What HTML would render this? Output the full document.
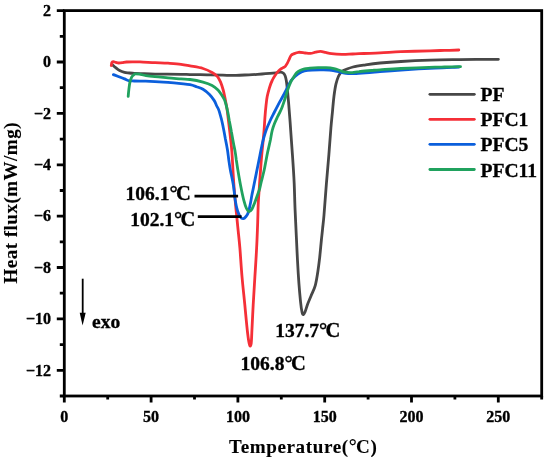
<!DOCTYPE html>
<html><head><meta charset="utf-8"><title>DSC curves</title>
<style>html,body{margin:0;padding:0;background:#fff;}svg{display:block;filter:blur(0.3px);}</style>
</head><body>
<svg width="550" height="461" viewBox="0 0 550 461">
<rect width="550" height="461" fill="#fff"/>
<g fill="none" stroke-width="2.8" stroke-linejoin="round" stroke-linecap="round">
<path stroke="#474747" d="M112.3 64.7 C112.9 65.2 114.5 66.7 115.7 67.7 C116.9 68.7 118.1 69.8 119.6 70.6 C121.1 71.4 122.9 72.0 124.5 72.4 C126.1 72.8 127.8 72.8 129.4 73.0 C131.0 73.2 132.4 73.2 134.2 73.3 C136.0 73.4 136.5 73.5 140.0 73.6 C143.5 73.7 148.2 74.0 155.0 74.1 C161.8 74.2 175.2 74.2 181.0 74.3 C186.8 74.4 185.7 74.5 190.0 74.6 C194.3 74.7 201.5 74.7 207.0 74.8 C212.5 74.9 218.2 75.1 223.0 75.2 C227.8 75.3 231.7 75.5 236.0 75.4 C240.3 75.3 244.7 75.0 249.0 74.8 C253.3 74.6 258.5 74.2 262.0 74.0 C265.5 73.8 267.7 73.6 270.0 73.4 C272.3 73.2 274.2 73.0 276.0 72.8 C277.8 72.6 279.4 72.1 280.7 72.2 C281.9 72.3 282.8 72.7 283.5 73.3 C284.2 73.9 284.7 74.8 285.2 76.0 C285.7 77.2 285.9 78.2 286.3 80.5 C286.7 82.8 287.0 86.1 287.4 90.0 C287.8 93.9 288.3 99.3 288.7 104.0 C289.1 108.7 289.4 113.3 289.8 118.0 C290.2 122.7 290.4 126.0 290.8 132.0 C291.2 138.1 291.8 145.7 292.4 154.3 C293.0 162.9 293.8 174.3 294.2 183.6 C294.6 192.9 294.7 201.0 295.1 210.0 C295.5 219.0 296.0 229.3 296.4 237.7 C296.8 246.1 297.1 252.9 297.5 260.5 C297.9 268.1 298.4 276.4 298.9 283.2 C299.4 290.0 300.0 296.5 300.5 301.4 C301.0 306.3 301.6 310.3 302.1 312.5 C302.6 314.7 303.0 314.7 303.5 314.6 C304.0 314.5 304.3 313.7 305.0 312.0 C305.7 310.3 306.5 307.2 307.5 304.5 C308.5 301.8 309.7 299.2 311.0 296.0 C312.3 292.8 314.2 289.4 315.3 285.3 C316.4 281.2 317.2 275.9 317.9 271.2 C318.6 266.5 319.1 262.5 319.7 257.3 C320.3 252.1 320.9 244.8 321.4 240.0 C321.9 235.2 322.2 232.8 322.6 228.6 C323.0 224.4 323.4 222.5 324.0 215.0 C324.6 207.5 325.6 193.7 326.4 183.6 C327.2 173.5 328.1 163.6 328.9 154.3 C329.6 145.0 330.3 135.2 330.9 128.0 C331.5 120.8 332.0 116.6 332.5 111.3 C333.0 106.0 333.4 100.6 334.0 96.0 C334.6 91.4 335.2 87.2 336.0 83.9 C336.8 80.6 337.6 78.3 338.5 76.3 C339.4 74.3 340.3 72.9 341.6 71.7 C342.9 70.5 344.5 70.1 346.4 69.3 C348.3 68.5 349.8 67.8 353.0 67.0 C356.2 66.2 361.1 65.5 365.6 64.8 C370.1 64.1 374.1 63.5 380.0 63.0 C385.9 62.5 392.7 62.0 401.0 61.5 C409.3 61.0 420.3 60.5 430.0 60.2 C439.7 59.9 447.7 59.8 459.1 59.6 C470.5 59.5 491.8 59.3 498.4 59.3"/>
<path stroke="#f52f37" d="M111.3 65.6 C111.4 65.1 111.5 63.2 111.8 62.6 C112.1 62.0 112.6 61.8 113.3 61.7 C114.0 61.7 114.8 62.1 115.7 62.3 C116.6 62.5 117.5 63.0 118.6 63.0 C119.7 63.0 121.2 62.8 122.5 62.6 C123.8 62.4 124.8 62.1 126.4 62.0 C128.0 61.9 130.0 61.8 132.3 61.8 C134.6 61.8 136.2 61.8 140.0 61.9 C143.8 62.0 150.3 62.5 155.0 62.7 C159.7 62.9 163.7 62.9 168.0 63.2 C172.3 63.5 177.3 63.8 181.0 64.3 C184.7 64.8 186.3 65.2 190.0 65.9 C193.7 66.6 199.3 67.4 203.0 68.5 C206.7 69.6 209.7 71.1 212.1 72.4 C214.5 73.7 215.9 74.7 217.3 76.3 C218.7 77.9 219.6 79.8 220.6 82.1 C221.6 84.4 222.4 87.2 223.2 90.0 C224.0 92.8 224.5 95.8 225.2 99.1 C225.8 102.3 226.6 106.0 227.1 109.5 C227.6 113.0 228.0 116.6 228.4 120.0 C228.8 123.4 229.2 126.8 229.6 130.0 C230.0 133.2 230.2 135.4 230.6 139.1 C231.0 142.8 231.4 145.6 231.9 152.1 C232.4 158.6 232.9 169.7 233.4 177.8 C233.9 185.9 234.6 193.6 235.2 200.6 C235.8 207.6 236.6 214.8 237.1 220.0 C237.6 225.2 237.8 227.3 238.3 232.0 C238.8 236.7 239.3 240.8 239.9 248.2 C240.5 255.6 241.2 267.1 242.0 276.5 C242.8 285.9 243.9 295.3 244.8 304.7 C245.7 314.1 246.8 326.2 247.6 333.0 C248.4 339.8 249.1 343.6 249.7 345.3 C250.3 347.1 250.8 345.6 251.2 343.5 C251.5 341.4 251.5 339.5 251.8 333.0 C252.1 326.5 252.7 314.1 253.2 304.7 C253.7 295.3 254.3 285.9 254.9 276.5 C255.5 267.1 256.2 256.8 256.6 248.2 C257.1 239.6 257.3 232.6 257.6 225.0 C257.9 217.4 258.0 208.7 258.3 202.5 C258.6 196.3 259.0 192.6 259.3 188.0 C259.6 183.4 259.8 180.3 260.2 175.0 C260.6 169.7 261.1 162.1 261.6 156.3 C262.1 150.5 262.8 144.4 263.2 140.0 C263.6 135.6 263.8 133.7 264.1 130.0 C264.4 126.3 264.6 121.8 264.9 117.8 C265.2 113.8 265.6 109.2 266.0 105.7 C266.4 102.2 266.6 99.5 267.2 96.5 C267.8 93.5 268.7 90.3 269.5 87.6 C270.3 84.9 271.2 82.5 272.2 80.5 C273.1 78.5 274.1 76.9 275.2 75.3 C276.3 73.7 277.6 72.0 278.6 70.9 C279.6 69.8 280.4 69.3 281.2 68.8 C282.0 68.3 282.5 68.2 283.2 67.7 C283.9 67.2 284.8 66.9 285.5 66.1 C286.2 65.3 286.9 63.9 287.5 62.8 C288.1 61.7 288.6 60.5 289.2 59.3 C289.8 58.1 290.3 56.4 291.0 55.5 C291.7 54.6 292.1 54.5 293.3 54.0 C294.6 53.5 296.5 52.5 298.5 52.3 C300.5 52.1 303.1 52.8 305.1 53.0 C307.1 53.2 308.8 53.5 310.5 53.4 C312.2 53.3 313.9 52.5 315.5 52.2 C317.1 51.9 318.7 51.4 320.4 51.4 C322.1 51.4 323.8 52.0 325.6 52.4 C327.5 52.8 328.8 53.3 331.5 53.6 C334.2 53.9 338.3 54.2 341.8 54.3 C345.3 54.4 349.1 54.1 352.7 54.0 C356.3 53.9 359.1 53.7 363.6 53.5 C368.2 53.3 373.8 53.2 380.0 52.9 C386.2 52.6 392.7 52.1 401.0 51.7 C409.3 51.4 422.8 51.0 430.0 50.8 C437.2 50.6 439.7 50.5 444.5 50.4 C449.3 50.3 456.4 50.1 458.8 50.0"/>
<path stroke="#0b5fdc" d="M113.4 74.6 C114.1 74.9 115.9 75.6 117.7 76.3 C119.5 77.0 122.5 78.2 124.5 78.9 C126.5 79.7 127.8 80.5 129.4 80.8 C131.0 81.1 131.5 80.9 134.2 81.0 C136.9 81.1 142.1 81.1 145.6 81.2 C149.1 81.3 151.3 81.4 155.0 81.6 C158.7 81.8 163.7 82.1 168.0 82.4 C172.3 82.7 177.3 83.2 181.0 83.6 C184.7 84.0 187.4 84.2 190.0 84.7 C192.6 85.2 194.3 85.9 196.5 86.7 C198.7 87.5 200.8 88.0 203.0 89.3 C205.2 90.6 207.7 92.7 209.5 94.5 C211.3 96.3 212.9 98.6 214.1 100.4 C215.3 102.2 215.7 103.8 216.5 105.5 C217.3 107.2 218.1 108.1 218.9 110.4 C219.7 112.7 220.7 116.5 221.5 119.5 C222.3 122.5 222.8 125.4 223.5 128.7 C224.2 132.0 224.8 135.6 225.4 139.1 C226.1 142.6 226.8 146.0 227.4 149.5 C228.0 153.0 228.3 156.6 228.8 160.0 C229.3 163.4 229.6 166.0 230.4 170.2 C231.2 174.4 232.6 180.3 233.4 185.4 C234.2 190.5 234.6 196.3 235.3 200.6 C236.0 204.9 236.7 208.2 237.6 211.0 C238.5 213.8 239.6 215.9 240.5 217.2 C241.4 218.5 242.4 218.8 243.3 218.7 C244.2 218.6 245.1 217.6 246.0 216.5 C246.9 215.4 247.8 214.2 248.5 212.0 C249.2 209.8 249.9 205.8 250.5 203.0 C251.1 200.2 251.4 197.6 251.9 195.0 C252.4 192.4 252.7 191.3 253.4 187.7 C254.1 184.1 255.2 178.8 256.3 173.4 C257.4 168.0 259.0 160.0 259.9 155.5 C260.8 151.0 261.1 149.3 261.7 146.5 C262.3 143.7 262.8 141.2 263.6 138.4 C264.4 135.6 265.2 132.6 266.3 129.7 C267.4 126.8 268.7 123.9 270.0 121.0 C271.3 118.1 272.8 115.3 274.2 112.5 C275.6 109.7 277.1 106.8 278.4 104.3 C279.7 101.8 281.1 99.5 282.2 97.5 C283.3 95.5 283.9 94.4 284.8 92.6 C285.7 90.8 286.7 88.7 287.7 86.8 C288.7 84.9 289.7 82.6 290.8 81.0 C291.9 79.4 293.2 78.1 294.4 77.0 C295.6 75.9 296.8 75.0 297.9 74.2 C299.0 73.4 299.9 72.8 301.0 72.2 C302.1 71.6 302.7 71.2 304.5 70.8 C306.3 70.4 308.8 70.2 312.0 70.1 C315.2 69.9 320.1 69.8 323.6 69.9 C327.1 70.0 330.3 70.1 333.2 70.5 C336.1 70.9 338.7 71.8 340.8 72.3 C342.9 72.8 344.1 73.2 346.0 73.4 C347.9 73.6 349.2 73.7 352.5 73.6 C355.8 73.5 361.0 73.1 365.6 72.8 C370.2 72.5 374.1 72.1 380.0 71.6 C385.9 71.1 391.8 70.6 401.0 70.0 C410.2 69.4 425.3 68.5 435.0 68.0 C444.7 67.5 455.0 67.2 459.0 67.0"/>
<path stroke="#20a25e" d="M128.2 96.4 C128.3 95.2 128.6 91.4 128.9 89.1 C129.2 86.8 129.4 84.3 129.9 82.3 C130.4 80.3 131.1 78.2 131.8 76.9 C132.5 75.6 133.6 75.0 134.2 74.5 C134.8 74.0 134.6 74.0 135.5 73.9 C136.4 73.9 137.7 73.9 139.4 74.2 C141.2 74.5 143.4 75.2 146.0 75.6 C148.6 76.0 151.3 76.3 155.0 76.7 C158.7 77.1 163.7 77.5 168.0 77.9 C172.3 78.3 177.3 78.6 181.0 78.9 C184.7 79.2 186.3 79.0 190.0 79.5 C193.7 80.0 199.3 81.1 203.0 82.1 C206.7 83.1 209.6 84.1 212.1 85.4 C214.6 86.7 216.2 88.2 218.0 90.0 C219.8 91.8 221.5 94.8 222.6 96.5 C223.7 98.2 224.0 98.2 224.8 100.5 C225.6 102.8 226.7 107.0 227.4 110.4 C228.2 113.8 228.7 117.3 229.3 120.8 C230.0 124.3 230.7 127.8 231.3 131.3 C232.0 134.8 232.5 138.2 233.2 141.7 C233.8 145.2 234.7 149.0 235.2 152.1 C235.7 155.2 235.9 157.0 236.3 160.0 C236.8 163.0 237.2 166.0 237.9 170.2 C238.6 174.4 239.6 180.3 240.6 185.4 C241.6 190.5 242.9 196.8 243.9 200.6 C244.9 204.4 245.7 206.7 246.5 208.5 C247.3 210.3 248.0 211.4 248.9 211.5 C249.8 211.6 251.0 210.6 251.9 209.2 C252.8 207.8 253.7 205.3 254.6 203.0 C255.5 200.7 256.5 197.8 257.3 195.5 C258.1 193.2 258.9 191.3 259.6 189.0 C260.3 186.7 260.7 184.0 261.3 181.7 C261.9 179.4 262.4 177.4 263.0 175.0 C263.6 172.6 264.2 170.0 264.7 167.4 C265.2 164.8 265.7 162.1 266.2 159.5 C266.7 156.9 267.0 155.2 267.7 151.9 C268.4 148.7 269.6 143.6 270.4 140.0 C271.1 136.4 271.5 133.2 272.2 130.5 C272.9 127.8 273.7 125.5 274.5 123.5 C275.3 121.5 276.0 120.0 276.8 118.3 C277.6 116.5 278.6 114.8 279.5 113.0 C280.4 111.2 281.2 109.6 282.0 107.5 C282.8 105.4 283.8 102.3 284.4 100.5 C285.0 98.7 285.1 98.3 285.7 96.5 C286.2 94.7 286.9 92.2 287.7 89.8 C288.5 87.4 289.6 84.4 290.6 82.3 C291.6 80.2 292.6 78.8 293.6 77.2 C294.6 75.7 295.3 74.1 296.4 73.0 C297.5 71.9 298.6 71.2 300.0 70.5 C301.4 69.8 302.8 69.2 304.5 68.8 C306.2 68.4 307.7 68.4 310.0 68.2 C312.3 68.0 315.5 67.8 318.2 67.7 C320.9 67.6 323.4 67.6 326.0 67.7 C328.6 67.8 331.7 68.1 334.0 68.6 C336.3 69.1 338.2 69.9 340.0 70.5 C341.8 71.1 342.6 71.9 344.6 72.2 C346.7 72.5 349.9 72.7 352.3 72.6 C354.7 72.5 355.8 71.9 359.0 71.6 C362.2 71.2 367.9 70.8 371.4 70.5 C374.9 70.2 375.1 70.1 380.0 69.8 C384.9 69.5 391.8 68.9 401.0 68.5 C410.2 68.1 427.8 67.5 435.0 67.2 C442.2 67.0 440.2 67.1 444.5 67.0 C448.8 66.9 457.8 66.7 460.5 66.6"/>
</g>
<g stroke="#000" stroke-width="2.8" fill="none">
<rect x="64.3" y="10.6" width="477.4" height="385.4" stroke-linejoin="miter"/>
<path d="M64.3 10.6H56.8 M64.3 36.3H59.8 M64.3 62.0H56.8 M64.3 87.7H59.8 M64.3 113.4H56.8 M64.3 139.1H59.8 M64.3 164.8H56.8 M64.3 190.5H59.8 M64.3 216.1H56.8 M64.3 241.8H59.8 M64.3 267.5H56.8 M64.3 293.2H59.8 M64.3 318.9H56.8 M64.3 344.6H59.8 M64.3 370.3H56.8 M64.3 396.0H59.8 M64.3 396.0V402.5 M107.7 396.0V399.5 M151.1 396.0V402.5 M194.5 396.0V399.5 M237.9 396.0V402.5 M281.3 396.0V399.5 M324.7 396.0V402.5 M368.1 396.0V399.5 M411.5 396.0V402.5 M454.9 396.0V399.5 M498.3 396.0V402.5 M541.7 396.0V399.5"/>
</g>
<g style='font-family:"Liberation Serif","Times New Roman",serif;font-weight:bold;stroke:#000;stroke-width:0.35px;font-size:16px' fill="#000">
<text x="51" y="15.9" text-anchor="end">2</text>
<text x="51" y="67.3" text-anchor="end">0</text>
<text x="51" y="118.7" text-anchor="end">−2</text>
<text x="51" y="170.1" text-anchor="end">−4</text>
<text x="51" y="221.4" text-anchor="end">−6</text>
<text x="51" y="272.8" text-anchor="end">−8</text>
<text x="51" y="324.2" text-anchor="end">−10</text>
<text x="51" y="375.6" text-anchor="end">−12</text>
<text x="64.3" y="421.5" text-anchor="middle">0</text>
<text x="151.1" y="421.5" text-anchor="middle">50</text>
<text x="237.9" y="421.5" text-anchor="middle">100</text>
<text x="324.7" y="421.5" text-anchor="middle">150</text>
<text x="411.5" y="421.5" text-anchor="middle">200</text>
<text x="498.3" y="421.5" text-anchor="middle">250</text>
</g>
<text x="303.2" y="453.2" text-anchor="middle" style='font-family:"Liberation Serif","Times New Roman",serif;font-weight:bold;stroke:#000;stroke-width:0.1px;font-size:19.1px;letter-spacing:0.6px'>Temperature(<tspan style="font-size:20px">°</tspan><tspan dx="-1.3">C</tspan>)</text>
<text transform="translate(17.2,202.8) rotate(-90)" text-anchor="middle" style='font-family:"Liberation Serif","Times New Roman",serif;font-weight:bold;stroke:#000;stroke-width:0.1px;font-size:19px;letter-spacing:0.5px'>Heat flux(mW/mg)</text>
<line x1="429.9" x2="474.3" y1="94.3" y2="94.3" stroke="#474747" stroke-width="2.8" stroke-linecap="round"/>
<text x="480.5" y="101.3" style='font-family:"Liberation Serif","Times New Roman",serif;font-weight:bold;stroke:#000;stroke-width:0.35px;font-size:19.6px'>PF</text>
<line x1="429.9" x2="474.3" y1="119.3" y2="119.3" stroke="#f52f37" stroke-width="2.8" stroke-linecap="round"/>
<text x="480.5" y="126.3" style='font-family:"Liberation Serif","Times New Roman",serif;font-weight:bold;stroke:#000;stroke-width:0.35px;font-size:19.6px'>PFC1</text>
<line x1="429.9" x2="474.3" y1="144.3" y2="144.3" stroke="#0b5fdc" stroke-width="2.8" stroke-linecap="round"/>
<text x="480.5" y="151.3" style='font-family:"Liberation Serif","Times New Roman",serif;font-weight:bold;stroke:#000;stroke-width:0.35px;font-size:19.6px'>PFC5</text>
<line x1="429.9" x2="474.3" y1="169.5" y2="169.5" stroke="#20a25e" stroke-width="2.8" stroke-linecap="round"/>
<text x="480.5" y="176.5" style='font-family:"Liberation Serif","Times New Roman",serif;font-weight:bold;stroke:#000;stroke-width:0.35px;font-size:19.6px'>PFC11</text>
<g style='font-family:"Liberation Serif","Times New Roman",serif;font-weight:bold;stroke:#000;stroke-width:0.35px;font-size:19.5px'>
<text x="125.6" y="200.4">106.1<tspan style="font-size:20.5px">°<tspan dx="-1.7">C</tspan></tspan></text>
<text x="130.2" y="225.9">102.1<tspan style="font-size:20.5px">°<tspan dx="-1.7">C</tspan></tspan></text>
<text x="275.2" y="337.3">137.7<tspan style="font-size:20.5px">°<tspan dx="-1.7">C</tspan></tspan></text>
<text x="240.6" y="370.3">106.8<tspan style="font-size:20.5px">°<tspan dx="-1.7">C</tspan></tspan></text>
<text x="92" y="328.3">exo</text>
</g>
<g stroke="#000" stroke-width="2.9"><path d="M194.5 196.1H238.1M197.8 216.6H241.6"/></g>
<path d="M82.7 278.7V315" stroke="#000" stroke-width="1.8"/>
<path d="M79.7 312.8L82.6 325.6L85.7 312.8Z" fill="#000"/>
</svg>
</body></html>
